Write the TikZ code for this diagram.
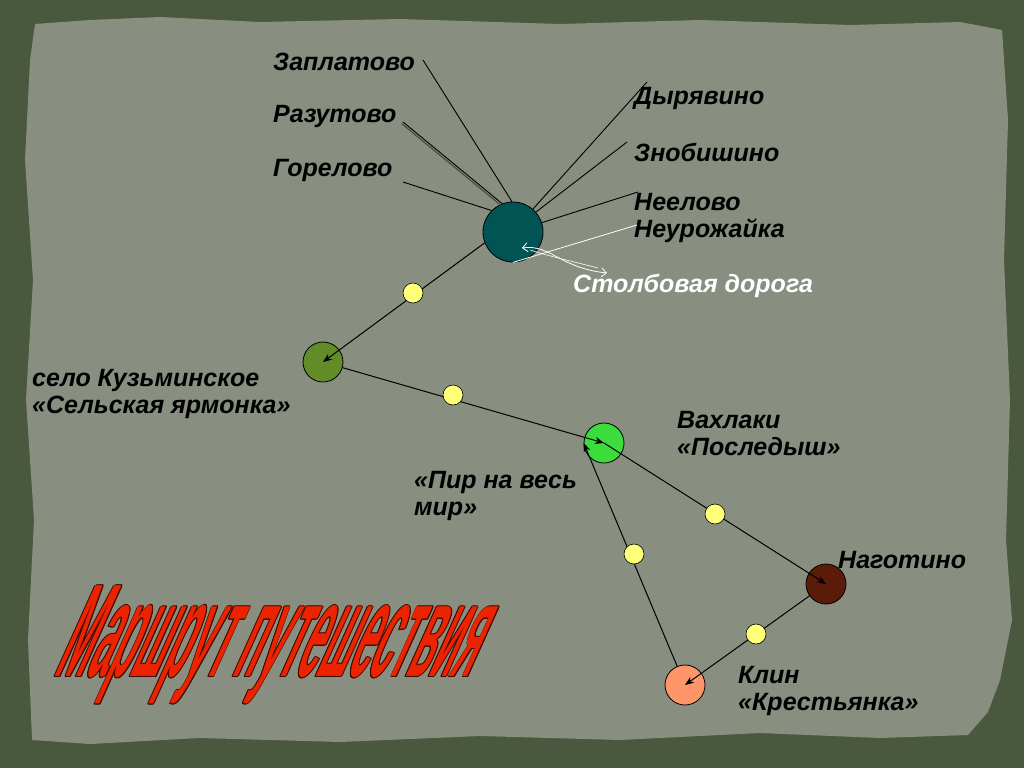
\documentclass[tikz,border=0pt]{standalone}
\usepackage{fontspec}
\setmainfont{Liberation Sans}
\usetikzlibrary{arrows.meta}

\definecolor{frame}{RGB}{74,88,62}
\definecolor{paper}{RGB}{136,142,128}
\definecolor{hubteal}{RGB}{0,84,84}
\definecolor{kuzmgreen}{RGB}{98,140,40}
\definecolor{vakhgreen}{RGB}{60,220,60}
\definecolor{nagbrown}{RGB}{90,28,8}
\definecolor{klinsalmon}{RGB}{255,150,105}
\definecolor{dotyellow}{RGB}{255,255,120}
\definecolor{titlered}{RGB}{235,35,0}
\definecolor{titleedge}{RGB}{60,10,0}

\begin{document}
\begin{tikzpicture}[x=1pt,y=1pt,
  lbl/.style={font=\fontsize{25}{27}\selectfont\bfseries\itshape, align=left, anchor=west, inner sep=0pt},
  village/.style={circle, draw=black, line width=0.8pt, minimum size=40pt, inner sep=0pt},
  dot/.style={circle, draw=black, fill=dotyellow, line width=0.6pt, minimum size=20pt, inner sep=0pt},
  route/.style={line width=1pt, -{Stealth[length=9pt,width=7pt]}},
  spoke/.style={line width=0.9pt},
  wordart/.style={transform shape, font=\fontsize{40}{40}\selectfont\bfseries, inner sep=0pt}]
\useasboundingbox (0,0) rectangle (1024,-768);

% torn paper
\fill[frame] (0,0) rectangle (1024,-768);
\fill[paper] (35,-24) -- (90,-20) -- (160,-17) -- (260,-22) -- (400,-19) -- (560,-24) -- (700,-20) -- (850,-25) -- (960,-22) -- (1002,-30) -- (1008,-120) -- (1004,-260) -- (1010,-400) -- (1006,-540) -- (1012,-620) -- (1000,-680) -- (988,-712) -- (968,-735) -- (880,-738) -- (760,-733) -- (620,-740) -- (480,-736) -- (340,-742) -- (200,-738) -- (90,-744) -- (32,-740) -- (28,-640) -- (34,-520) -- (26,-400) -- (33,-280) -- (25,-160) -- (30,-60) -- cycle;

% villages
\node[village, fill=hubteal, minimum size=60pt] (hub) at (513,-232) {};
\node[village, fill=kuzmgreen] (kuzm) at (323,-362) {};
\node[village, fill=vakhgreen] (vakh) at (604,-443) {};
\node[village, fill=nagbrown] (nag) at (826,-584) {};
\node[village, fill=klinsalmon] (klin) at (685,-685) {};

% labels
\node[lbl] (zaplatovo) at (273,-62) {Заплатово};
\node[lbl] (razutovo) at (273,-116) {Разутово};
\node[lbl] (gorelovo) at (273,-170) {Горелово};
\node[lbl] (dyryavino) at (634,-98) {Дырявино};
\node[lbl] (znobishino) at (634,-152) {Знобишино};
\node[lbl] (neelovo) at (634,-218) {Неелово\\Неурожайка};
\node[lbl, text=white] (stolbovaya) at (573,-286) {Столбовая дорога};
\node[lbl] (kuzm-lbl) at (32,-394) {село Кузьминское\\«Сельская ярмонка»};
\node[lbl] (vakh-lbl) at (677,-434) {Вахлаки\\«Последыш»};
\node[lbl] (pir) at (414,-496) {«Пир на весь\\мир»};
\node[lbl] (nag-lbl) at (838,-560) {Наготино};
\node[lbl] (klin-lbl) at (738,-691) {Клин\\«Крестьянка»};

% spokes to the hub
\coordinate (zaplatovo-end) at (423,-60);
\coordinate (razutovo-end) at (403,-122);
\coordinate (gorelovo-end) at (403,-182);
\coordinate (dyryavino-end) at (647,-82);
\coordinate (znobishino-end) at (627,-142);
\coordinate (neelovo-end) at (638,-192);
\draw[gray!60!black, line width=1.2pt] ([shift={(-1.5,-1.5)}]razutovo-end) -- ([shift={(-1.5,-1.5)}]hub.111);
\foreach \v/\a in {zaplatovo/92,razutovo/111,gorelovo/135,dyryavino/49,znobishino/41,neelovo/18}
  \draw[spoke] (\v-end) -- (hub.\a);

% stolbovaya doroga
\coordinate (neurozh-end) at (637,-225);
\draw[white, line width=0.8pt] (hub.south) -- (neurozh-end);
\coordinate (road-a) at (522,-248);
\coordinate (road-b) at (607,-273);
\draw[white, line width=0.8pt, {Straight Barb[length=5pt,width=9pt]}-{Straight Barb[length=5pt,width=9pt]}] (road-a) .. controls (550,-244) and (560,-268) .. (road-b);
\draw[white, line width=0.6pt] (530,-250) .. controls (548,-256) and (575,-262) .. (598,-268);

% route
\draw[route] (hub.201) -- (kuzm.center);
\draw[route] (kuzm) -- (vakh.center);
\draw[route] (vakh.center) -- (nag.center);
\draw[route] (nag) -- (klin.center);
\draw[route] (klin) -- (vakh.west);

\node[dot] (d1) at (413,-293) {};
\node[dot] (d2) at (453,-395) {};
\node[dot] (d3) at (715,-514) {};
\node[dot] (d4) at (634,-554) {};
\node[dot] (d5) at (756,-634) {};

% title
\begin{scope}[shift={(276,-645)}, xslant=0.45, xscale=0.93, yscale=3.3]
\foreach \dx/\dy [count=\i] in {0.9/0,-0.9/0,0/0.28,0/-0.28,0.7/0.2,-0.7/0.2,0.7/-0.2,-0.7/-0.2}
  \node[wordart, text=titleedge] (edge\i) at (\dx,\dy) {Маршрут путешествия};
\node[wordart, text=titlered] (title) at (0,0) {Маршрут путешествия};
\end{scope}
\end{tikzpicture}
\end{document}
